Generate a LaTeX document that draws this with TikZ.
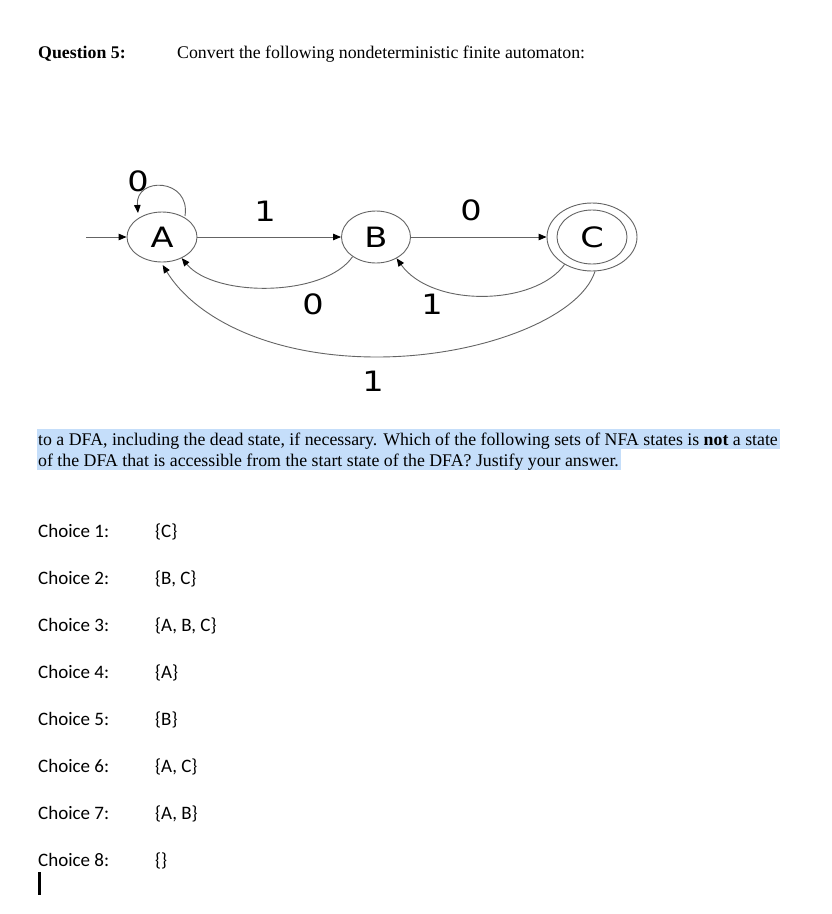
\documentclass[tikz,border=0pt]{standalone}
\usepackage{fontspec}
\setmainfont{Liberation Serif}
\newfontfamily\calfont{Carlito}
\newfontfamily\dvfont{DejaVu Sans}
\usetikzlibrary{arrows.meta,shapes.geometric,backgrounds,calc}
\definecolor{hlblue}{RGB}{197,222,250}
\definecolor{edgegray}{RGB}{100,100,100}
\newcommand\wlbl[1]{\scalebox{1.2}[1]{#1}}
\begin{document}
\begin{tikzpicture}[x=1pt,y=-1pt,
  state/.style={ellipse,draw=edgegray,line width=0.9pt,inner sep=0pt,font=\dvfont\fontsize{28}{30}\selectfont},
  edge/.style={draw=edgegray,line width=0.9pt,-{Triangle[length=8pt,width=6.5pt,color=black]}},
  lbl/.style={inner sep=0pt,font=\dvfont\fontsize{28}{30}\selectfont},
  tms/.style={anchor=base west,inner sep=0pt,font=\fontsize{17.8}{20}\selectfont},
  cho/.style={anchor=base west,inner sep=0pt,font=\calfont\fontsize{19}{22}\selectfont}]
\useasboundingbox (0,0) rectangle (832,914);

% header
\node[tms] (q) at (38,58) {\bfseries Question 5:};
\node[tms] (conv) at (177,58) {Convert the following nondeterministic finite automaton:};

% automaton
\node[state,minimum width=70pt,minimum height=50pt] (A) at (162,237) {\wlbl{A}};
\node[state,minimum width=69pt,minimum height=52pt] (B) at (376,237) {\wlbl{B}};
\node[state,minimum width=90pt,minimum height=68pt] (C) at (592,237) {};
\node[state,minimum width=70pt,minimum height=54pt] (Cin) at (C.center) {\wlbl{C}};
\coordinate (start) at (86,237);

\draw[edge] (start) -- (A);
\draw[edge] (A) -- (B);
\draw[edge] (B) -- (C);
\draw[edge] ([shift={(23,-21)}]A.center) .. controls (191,178) and (135,176) .. ([shift={(-24,-24)}]A.center);
\draw[edge] (B.220) .. controls (325,297) and (215,298) .. (A.-47);
\draw[edge] (C.225) .. controls (535,306) and (432,308) .. (B.-46);
\draw[edge,shorten >=3pt] (C.-85) .. controls (580,318) and (480,357) .. (377,357)
   .. controls (270,357) and (195,318) .. (A.-92);

\node[lbl] (l00) at (138,181) {\wlbl{0}};
\node[lbl] (l1ab) at (265,211) {\wlbl{1}};
\node[lbl] (l0bc) at (471,210) {\wlbl{0}};
\node[lbl] (l0ba) at (313,304) {\wlbl{0}};
\node[lbl] (l1cb) at (432,304) {\wlbl{1}};
\node[lbl] (l1ca) at (373,381) {\wlbl{1}};

% question text
\node[tms] (l1) at (38,445) {to a DFA, including the dead state, if necessary. Which of the following sets of NFA states is \textbf{not} a state};
\node[tms] (l2) at (38,466) {of the DFA that is accessible from the start state of the DFA? Justify your answer.};
\coordinate (h0) at (0,429);
\coordinate (h1) at (0,449);
\coordinate (h2) at (0,470);
\begin{scope}[on background layer]
\fill[white] (0,0) rectangle (832,914);
\fill[hlblue] (37,429) rectangle ([xshift=2pt]l1.east |- h1);
\fill[hlblue] (37,449) rectangle ([xshift=2pt]l2.east |- h2);
\end{scope}

% choices
\node[cho] (c1) at (38,537.7) {Choice 1:};
\node[cho] (v1) at (155,537.7) {\{C\}};
\node[cho] (c2) at (38,584.7) {Choice 2:};
\node[cho] (v2) at (155,584.7) {\{B, C\}};
\node[cho] (c3) at (38,631.7) {Choice 3:};
\node[cho] (v3) at (155,631.7) {\{A, B, C\}};
\node[cho] (c4) at (38,678.7) {Choice 4:};
\node[cho] (v4) at (155,678.7) {\{A\}};
\node[cho] (c5) at (38,725.7) {Choice 5:};
\node[cho] (v5) at (155,725.7) {\{B\}};
\node[cho] (c6) at (38,772.7) {Choice 6:};
\node[cho] (v6) at (155,772.7) {\{A, C\}};
\node[cho] (c7) at (38,819.7) {Choice 7:};
\node[cho] (v7) at (155,819.7) {\{A, B\}};
\node[cho] (c8) at (38,866.7) {Choice 8:};
\node[cho] (v8) at (155,866.7) {\{\}};
\fill[black] (38.3,872) rectangle (40.6,895);
\end{tikzpicture}
\end{document}
